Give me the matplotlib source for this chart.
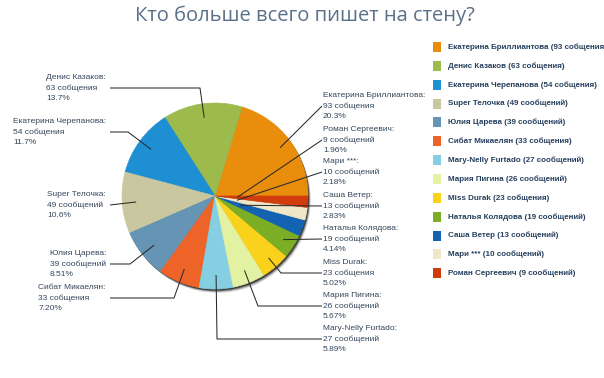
import math
import matplotlib
matplotlib.use("Agg")
import matplotlib.pyplot as plt
from matplotlib.patches import Circle, Rectangle
import numpy as np

# data: messages per person, in slice order (counter-clockwise from 3 o'clock)
names = ["Екатерина Бриллиантова", "Денис Казаков", "Екатерина Черепанова",
         "Super Телочка", "Юлия Царева", "Сибат Микаелян", "Mary-Nelly Furtado",
         "Мария Пигина", "Miss Durak", "Наталья Колядова", "Саша Ветер",
         "Мари ***", "Роман Сергеевич"]
counts = np.array([93, 63, 54, 49, 39, 33, 27, 26, 23, 19, 13, 10, 9])
words = ["собщения", "собщения", "собщения", "сообщений", "сообщений",
         "собщения", "сообщений", "сообщений", "собщения", "сообщений",
         "сообщений", "сообщений", "сообщений"]
colors = ["#E88E0C", "#9DBB4C", "#1F8FD3", "#C9C7A0", "#6694B4", "#EE6428",
          "#86CFE2", "#E2F1A2", "#FAD21C", "#7BAE24", "#1463B2", "#EFE7C8",
          "#D03C0C"]
title = "Кто больше всего пишет на стену?"

total = counts.sum()


def pct(v):
    # 3 significant digits, truncated like the source
    p = v / total * 100
    d = 2 - int(math.floor(math.log10(p)))
    p = math.floor(p * 10 ** d + 1e-9) / 10 ** d
    return f"{p:.{d}f}%"


# label layout (pixels): side, text y (middle line), anchor radius fraction, elbow x
side = ["R", "L", "L", "L", "L", "L", "R", "R", "R", "R", "R", "R", "R"]
text_y = [106, 88, 132, 205, 264, 298, 339, 306, 273, 239, 206, 172, 140]
anchor_r = [0.87, 0.85, 0.85, 0.85, 0.84, 0.85, 0.85, 0.86, 0.88, 0.87, 0.29, 0.24, 0.24]
elbow_x = [None, 200, 128, None, 130, 174, 217, 258, 281, None, None, None, None]

cx, cy, R = 215, 196, 93
lab_font = "Liberation Sans"

fig = plt.figure(figsize=(6.04, 3.78), dpi=100)
ax = fig.add_axes([0, 0, 1, 1])

# drop shadow
for off, a in [(4.0, 0.10), (3.2, 0.2), (2.4, 0.35), (1.6, 0.6)]:
    ax.add_patch(Circle((cx + off * 0.7, cy + off), R, color="#111111", alpha=a,
                        lw=0, zorder=1))

wedges, _ = ax.pie(counts, colors=colors, center=(cx, cy), radius=R,
                   startangle=0, counterclock=False,
                   wedgeprops=dict(linewidth=0.5, zorder=2))
for w in wedges:
    w.set_edgecolor(w.get_facecolor())

ax.set_xlim(0, 604)
ax.set_ylim(378, 0)
ax.set_aspect("equal")
ax.axis("off")

txt_color = "#34465A"
cum = np.concatenate([[0], np.cumsum(counts)])
for i, n in enumerate(names):
    mid = (cum[i] + cum[i + 1]) / 2 / total * 2 * math.pi
    axp = cx + anchor_r[i] * R * math.cos(mid)
    ayp = cy - anchor_r[i] * R * math.sin(mid)
    ty = text_y[i]
    end_x = 322 if side[i] == "R" else 110
    if elbow_x[i] is not None:
        xs, ys = [axp, elbow_x[i], end_x], [ayp, ty, ty]
    else:
        xs, ys = [axp, end_x], [ayp, ty]
    ax.plot(xs, ys, color="#2a2a2a", lw=0.75, zorder=3, solid_capstyle="butt")
    label = f"{n}:\n{counts[i]} {words[i]}\n{pct(counts[i])}"
    if side[i] == "R":
        ax.text(323, ty, label, ha="left", va="center", fontsize=6.0,
                family=lab_font, color=txt_color, linespacing=1.6, zorder=4)
    else:
        ax.text(106, ty, label, ha="right", va="center", multialignment="left",
                fontsize=6.0, family=lab_font, color=txt_color,
                linespacing=1.6, zorder=4)

# legend
for i, n in enumerate(names):
    y = 47 + i * 18.86
    ax.add_patch(Rectangle((433, y - 5), 8, 10, color=colors[i], lw=0, zorder=4))
    ax.text(448, y, f"{n} ({counts[i]} {words[i]})", ha="left", va="center",
            fontsize=5.8, family=lab_font, fontweight="bold", color="#27405E",
            zorder=4)

ax.text(305, 16, title, ha="center", va="center", fontsize=14.5,
        family="Open Sans", color="#5A7088")

fig.savefig("out.png", dpi=100, facecolor="white")
